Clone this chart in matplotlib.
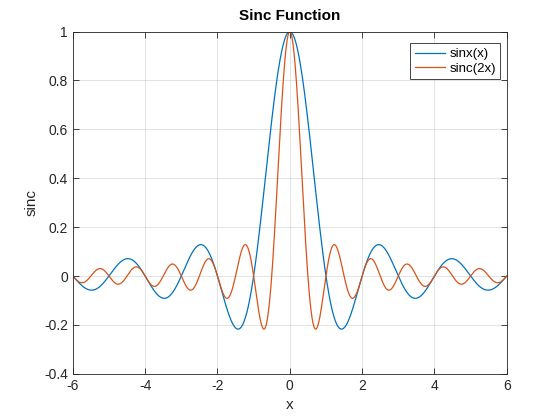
import numpy as np
import matplotlib
matplotlib.use('Agg')
import matplotlib.pyplot as plt

plt.rcParams['font.family'] = ['Liberation Sans', 'DejaVu Sans']

# sample grid of the plotted functions
x_min, x_max, n_points = -6, 6, 1201
series_labels = ['sinx(x)', 'sinc(2x)']
series_scale = [1, 2]
series_colors = ['#0072BD', '#D95319']
x_ticks = [-6, -4, -2, 0, 2, 4, 6]
y_ticks = [-0.4, -0.2, 0, 0.2, 0.4, 0.6, 0.8, 1]
y_tick_labels = ['-0.4', '-0.2', '0', '0.2', '0.4', '0.6', '0.8', '1']

x = np.linspace(x_min, x_max, n_points)

fig = plt.figure(figsize=(5.6, 4.2), dpi=100)
ax = fig.add_axes([0.13, 0.11, 0.775, 0.815])

for scale, label, color in zip(series_scale, series_labels, series_colors):
    ax.plot(x, np.sinc(scale * x), color=color, lw=0.9, label=label)

ax.set_xlim(x_min, x_max)
ax.set_ylim(-0.4, 1)
ax.set_xticks(x_ticks)
ax.set_xticklabels([str(t) for t in x_ticks])
ax.set_yticks(y_ticks)
ax.set_yticklabels(y_tick_labels)
ax.grid(True, color='#262626', alpha=0.15, lw=0.6)
ax.set_axisbelow(True)
ax.tick_params(direction='in', length=4, width=0.6, labelsize=10, colors='#262626',
               top=True, right=True)
for s in ax.spines.values():
    s.set_linewidth(0.6)
    s.set_color('#262626')

ax.set_title('Sinc Function', fontsize=11, fontweight='bold', color='black', pad=8)
ax.set_xlabel('x', fontsize=11, color='#262626')
ax.set_ylabel('sinc', fontsize=11, color='#262626')

leg = ax.legend(loc='upper right', fancybox=False, framealpha=1, edgecolor='#262626',
                fontsize=9.5, handlelength=2.3, handletextpad=0.3, borderpad=0.35,
                labelspacing=0.15, borderaxespad=0.0,
                bbox_to_anchor=(0.985, 0.965))
leg.get_frame().set_linewidth(0.6)

fig.savefig('out.png', dpi=100)
